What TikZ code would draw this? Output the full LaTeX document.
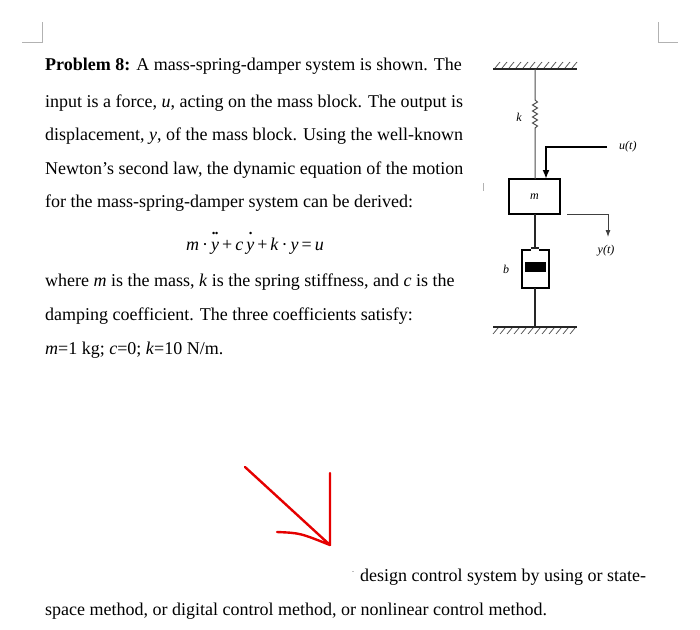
\documentclass[tikz,border=0pt]{standalone}
\usepackage{fontspec}
\setmainfont{Liberation Serif}
\usetikzlibrary{arrows.meta}
\newcommand{\dotsover}[2]{\leavevmode\rlap{\raisebox{0.75em}{\hspace{#1}\fontsize{9}{9}\selectfont\textbf{#2}}}}
\begin{document}
\begin{tikzpicture}[x=1pt,y=-1pt,
  txt/.style={anchor=base west,inner sep=0pt,font=\fontsize{18}{21}\selectfont},
  lab/.style={inner sep=1pt,font=\fontsize{12}{13}\selectfont\itshape},
  mech/.style={line width=1.6pt,black!85}]
\useasboundingbox (0,0) rectangle (700,629);
% corner marks
\draw[gray!60,line width=0.8pt] (42,22) -- (42,42) -- (22,42);
\draw[gray!60,line width=0.8pt] (658,22) -- (658,42) -- (678,42);
% text
\node[txt] (l1) at (45,70) {\textbf{Problem 8:} A mass-spring-damper system is shown. The};
\node[txt] (l2) at (45,107) {input is a force, \textit{u}, acting on the mass block. The output is};
\node[txt] (l3) at (45,140) {displacement, \textit{y}, of the mass block. Using the well-known};
\node[txt] (l4) at (45,174) {Newton's second law, the dynamic equation of the motion};
\node[txt] (l5) at (45,207) {for the mass-spring-damper system can be derived:};
\node[txt] (eq) at (186,250) {\textit{m}\,·\,\dotsover{0.05em}{••}\textit{y}\,+\,\textit{c}\,\dotsover{0.15em}{•}\textit{y}\,+\,\textit{k}\,·\,\textit{y}\,=\,\textit{u}};
\node[txt] (l6) at (45,286) {where \textit{m} is the mass, \textit{k} is the spring stiffness, and \textit{c} is the};
\node[txt] (l7) at (45,320) {damping coefficient. The three coefficients satisfy:};
\node[txt] (l8) at (45,354) {\textit{m}=1 kg; \textit{c}=0; \textit{k}=10 N/m.};
\node[txt] (l9) at (360,581) {design control system by using or state-};
\node[txt] (l10) at (45,615) {space method, or digital control method, or nonlinear control method.};
\draw[gray!50] (352,571) -- (354,571);
\draw[gray!60] (483,183) -- (483,191);
% red arrow
\coordinate (ra) at (245,467); \coordinate (rt) at (330,545);
\coordinate (rb1) at (330,473); \coordinate (rb2) at (277,532);
\draw[red!90!black,line width=2.4pt,line cap=round,line join=round] (ra) -- (rt) (rb1) -- (rt) (rb2) .. controls (300,533) .. (rt);
% mechanism
\coordinate (g1a) at (493,69); \coordinate (g1b) at (577,69);
\draw[mech] (g1a) -- (g1b);
\foreach \x in {495,502,...,575} \draw[black!70,line width=0.7pt] (\x,68) -- (\x+5,62);
\coordinate (g2a) at (493,327); \coordinate (g2b) at (577,327);
\draw[mech] (g2a) -- (g2b);
\foreach \x in {493,500,...,573} \draw[black!70,line width=0.7pt] (\x,334) -- (\x+5,328);
\node[draw,line width=1.3pt,minimum width=51pt,minimum height=35pt,inner sep=0pt] (m) at (534.5,196.5) {};
\node[lab] at (m) {m};
\draw[black!70,line width=1pt] (535,69) -- (535,100) -- (537.5,102) -- (532.5,105) -- (537.5,108) -- (532.5,111) -- (537.5,114) -- (532.5,117) -- (537.5,120) -- (532.5,123) -- (537.5,126) -- (535,128) -- (535,179);
\node[lab] at (519,117) {k};
% damper
\draw[mech] (535,214) -- (535,248);
\draw[mech] (531,248) -- (539,248);
\draw[line width=1.3pt] (531,250) -- (522,250) -- (522,288) -- (549,288) -- (549,250) -- (539,250);
\fill (525,262) rectangle (546,272);
\draw[mech] (535,288) -- (535,327);
\node[lab] at (506,269) {b};
% force u(t)
\coordinate (uf) at (607,147);
\draw[line width=2.6pt,-{Latex[length=9pt,width=7pt]}] (uf) -| (546,179);
\node[lab,anchor=west] at (618,147) {u(t)};
% output y(t)
\coordinate (ys) at (567,214);
\draw[black!75,line width=0.9pt,-{Latex[length=7pt,width=5pt]}] (ys) -| (608,237);
\node[lab] at (606,251) {y(t)};
\end{tikzpicture}
\end{document}
